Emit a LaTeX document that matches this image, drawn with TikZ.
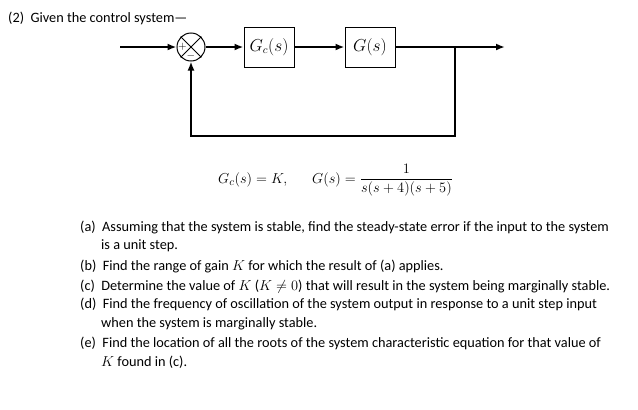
\documentclass[tikz,border=0pt]{standalone}
\usepackage{fontspec}
\setmainfont{Carlito}
\usepackage{amsmath}
\usetikzlibrary{arrows.meta}
\begin{document}
\begin{tikzpicture}[x=1pt,y=-1pt,
  txt/.style={anchor=base west,inner sep=0pt,font=\fontsize{14.3}{16}\selectfont},
  blk/.style={draw,line width=1pt,minimum width=50pt,minimum height=40pt,inner sep=0pt,font=\fontsize{16}{18}\selectfont},
  sig/.style={line width=2pt,-{Latex[length=9pt,width=7pt]}},
  wire/.style={line width=2pt}]
\useasboundingbox (0,0) rectangle (638,410);
\node[txt] (t0) at (8,22) {(2)\ \ Given the control system---};
\node[draw,circle,line width=1pt,minimum size=28pt,inner sep=0pt] (sum) at (191,47) {};
\draw[line width=1pt] (sum.north west)--(sum.south east) (sum.north east)--(sum.south west);
\node[font=\fontsize{11}{11}\selectfont,inner sep=0pt] (plus) at (182.5,47) {$+$};
\node[font=\fontsize{11}{11}\selectfont,inner sep=0pt] (minus) at (191,55.5) {$-$};
\node[blk] (gc) at (269,47) {$G_c(s)$};
\node[blk] (g) at (370,47) {$G(s)$};
\coordinate (in) at (120,47);
\coordinate (tap) at (455,47);
\coordinate (out) at (505,47);
\draw[sig] (in) -- (sum.west);
\draw[sig] (sum.east) -- (gc.west);
\draw[sig] (gc.east) -- (g.west);
\draw[sig] (g.east) -- (out);
\draw[sig] (tap) |- (191,136) -- (sum.south);
\node[txt] (eq1) at (218,183) {\fontsize{15}{17}\selectfont$G_c(s)=K,$};
\node[txt] (eq2) at (312,183) {\fontsize{15}{17}\selectfont$G(s)=\dfrac{1}{s(s+4)(s+5)}$};
\node[txt] (a1) at (80,231) {(a)\ \ Assuming that the system is stable, find the steady-state error if the input to the system};
\node[txt] (a2) at (101,249) {is a unit step.};
\node[txt] (b) at (80,270) {(b)\ \ Find the range of gain $K$ for which the result of (a) applies.};
\node[txt] (c) at (80,290) {(c)\ \ Determine the value of $K$ ($K\neq 0$) that will result in the system being marginally stable.};
\node[txt] (d1) at (80,308) {(d)\ \ Find the frequency of oscillation of the system output in response to a unit step input};
\node[txt] (d2) at (101,327) {when the system is marginally stable.};
\node[txt] (e1) at (80,347) {(e)\ \ Find the location of all the roots of the system characteristic equation for that value of};
\node[txt] (e2) at (101,366) {$K$ found in (c).};
\end{tikzpicture}
\end{document}
